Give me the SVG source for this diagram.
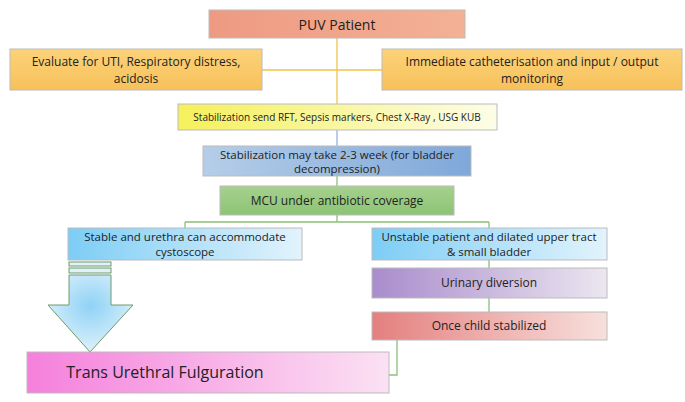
<svg xmlns="http://www.w3.org/2000/svg" width="685" height="402" viewBox="0 0 685 402">
<style>
text{font-family:"Open Sans","Liberation Sans",sans-serif;fill:#222;text-anchor:middle}
.b{stroke:#bbb;stroke-width:1}
.c{fill:none;stroke-width:1.3}
</style>
<defs>
<linearGradient id="gPuv" x1="0" x2="1"><stop offset="0" stop-color="#ee9a82"/><stop offset="1" stop-color="#f3b195"/></linearGradient>
<linearGradient id="gOr" x1="0" y1="0" x2="0" y2="1"><stop offset="0" stop-color="#fcd27a"/><stop offset="1" stop-color="#f7c15a"/></linearGradient>
<linearGradient id="gY" x1="0" x2="1"><stop offset="0" stop-color="#f5f05a"/><stop offset="1" stop-color="#fdfde8"/></linearGradient>
<linearGradient id="gBl" x1="0" x2="1"><stop offset="0" stop-color="#b5cde8"/><stop offset="1" stop-color="#7fa8d9"/></linearGradient>
<linearGradient id="gGr" x1="0" y1="0" x2="0" y2="1"><stop offset="0" stop-color="#a6d18e"/><stop offset="1" stop-color="#8cc474"/></linearGradient>
<linearGradient id="gSky" x1="0" x2="1"><stop offset="0" stop-color="#7dcdf5"/><stop offset="1" stop-color="#e2f3fc"/></linearGradient>
<linearGradient id="gPu" x1="0" x2="1"><stop offset="0" stop-color="#a98ccc"/><stop offset="1" stop-color="#ebe6f0"/></linearGradient>
<linearGradient id="gRd" x1="0" x2="1"><stop offset="0" stop-color="#e47f7f"/><stop offset="1" stop-color="#f7e0dc"/></linearGradient>
<linearGradient id="gPk" x1="0" x2="1"><stop offset="0" stop-color="#f580dc"/><stop offset="1" stop-color="#fbe1f3"/></linearGradient>
<radialGradient id="gAr" cx="0.5" cy="0.4" r="0.6"><stop offset="0" stop-color="#8fd2f6"/><stop offset="1" stop-color="#dff1fb"/></radialGradient>
</defs>
<g id="connectors">
<path class="c" stroke="#f2c44a" d="M337 38V104M262 70H382"/>
<path class="c" stroke="#8fb4dc" d="M337 130V146"/>
<path class="c" stroke="#8cc474" d="M337 176V186"/>
<path class="c" stroke="#8cbf7a" d="M337 215V222M185 222H489M185 222V228M489 222V228M489 260V268M489 298V312M397 340V375H389"/>
</g>
<g id="puv"><rect class="b" x="209" y="10" width="256" height="28" fill="url(#gPuv)"/><text x="337" y="30" font-size="14">PUV Patient</text></g>
<g id="evaluate"><rect class="b" x="10" y="49" width="252" height="41" fill="url(#gOr)"/><text x="136" y="66" font-size="12">Evaluate for UTI, Respiratory distress,</text><text x="136" y="83" font-size="12">acidosis</text></g>
<g id="cath"><rect class="b" x="382" y="49" width="300" height="41" fill="url(#gOr)"/><text x="532" y="66" font-size="12">Immediate catheterisation and input / output</text><text x="532" y="83" font-size="12">monitoring</text></g>
<g id="stab1"><rect class="b" x="178" y="104" width="319" height="26" fill="url(#gY)"/><text x="337" y="121" font-size="10">Stabilization send RFT, Sepsis markers, Chest X-Ray , USG KUB</text></g>
<g id="stab2"><rect class="b" x="203" y="146" width="268" height="30" fill="url(#gBl)"/><text x="337" y="159" font-size="11.5">Stabilization may take 2-3 week (for bladder</text><text x="337" y="172.5" font-size="11.5">decompression)</text></g>
<g id="mcu"><rect class="b" x="220" y="186" width="234" height="29" fill="url(#gGr)"/><text x="337" y="205" font-size="12">MCU under antibiotic coverage</text></g>
<g id="stable"><rect class="b" x="68" y="228" width="234" height="32" fill="url(#gSky)"/><text x="185" y="241" font-size="11.5">Stable and urethra can accommodate</text><text x="185" y="256" font-size="11.5">cystoscope</text></g>
<g id="unstable"><rect class="b" x="372" y="228" width="235" height="32" fill="url(#gSky)"/><text x="489" y="241" font-size="11.5">Unstable patient and dilated upper tract</text><text x="489" y="256" font-size="11.5">&amp; small bladder</text></g>
<g id="diversion"><rect class="b" x="372" y="268" width="235" height="30" fill="url(#gPu)"/><text x="489" y="287" font-size="12">Urinary diversion</text></g>
<g id="once"><rect class="b" x="372" y="312" width="235" height="28" fill="url(#gRd)"/><text x="489" y="330" font-size="12">Once child stabilized</text></g>
<g id="arrow" stroke="#6f9b6a" stroke-width="1">
<rect x="69" y="262" width="42" height="4" fill="#dff1fb"/>
<rect x="69" y="268" width="42" height="5" fill="#dff1fb"/>
<path d="M69 275H111V305H133L90 352L48 305H69Z" fill="url(#gAr)"/>
</g>
<g id="tuf"><rect class="b" x="27" y="352" width="362" height="41" fill="url(#gPk)"/><text x="165" y="378" font-size="16">Trans Urethral Fulguration</text></g>
</svg>
